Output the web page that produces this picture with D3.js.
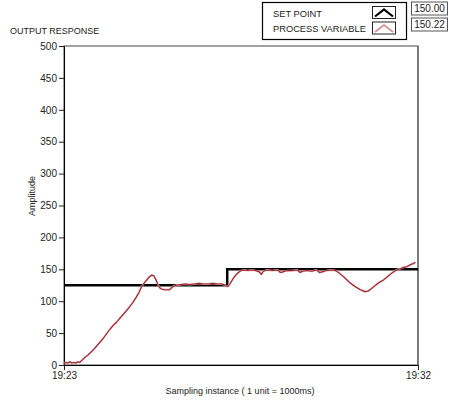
<!DOCTYPE html>
<html><head><meta charset="utf-8">
<script src="https://cdn.jsdelivr.net/npm/d3@7"></script>
<style>
body{margin:0;background:#fff;}
svg{display:block;font-family:"Liberation Sans",Arial,sans-serif;}
</style></head>
<body><svg id="c" width="474" height="415"></svg>
<script>
// ---- data ----
const yTicks = [0,50,100,150,200,250,300,350,400,450,500];
const xTickSeconds = [0, 540];
const xTickLabels = ["19:23","19:32"];
const spTimes = [0, 249, 540];
const spValues = [125, 150, 150];
const pvTimes = [0,3,6,9,12,15,18,21,24,28,32,36,40,45,50,55,60,65,70,75,80,85,90,95,100,105,110,114,118,122,126,130,134,137,140,143,146,149,153,157,161,164,168,172,178,185,192,199,206,213,220,227,234,240,244,247,250,253,256,259,262,266,270,275,280,286,292,298,301,304,310,318,326,330,334,340,348,356,360,364,370,378,385,390,394,400,408,414,420,428,436,444,452,459,464,468,474,480,487,494,500,507,513,518,523,528,533,536];
const pvValues = [2,4,3,5,3,4,3,5,4,8,12,15,19,24,30,36,42,49,56,62,67,73,79,85,91,98,106,113,122,128,133,138,141,140,134,127,121,119,118,118,118,121,124,125,126,127,126,127,128,127,127,128,127,127,126,124,123,127,132,137,141,145,148,149,148,149,148,146,142,147,149,148,149,145,146,148,148,149,145,147,148,147,149,145,146,148,149,148,144,137,129,123,118,115,116,119,124,129,133,139,144,149,151,153,154,157,159,161];
const legendNames = ["SET POINT","PROCESS VARIABLE"];
const legendValues = ["150.00","150.22"];
const colors = ["#000000","#a0232c"];

const svg = d3.select("#c");
const L=64, R=418, T=46, B=365;
const x = d3.scaleLinear().domain([0,540]).range([L,R]);
const y = d3.scaleLinear().domain([0,500]).range([B,T]);

// frame
svg.append("rect").attr("x",L).attr("y",T).attr("width",R-L).attr("height",B-T)
  .attr("fill","#fff").attr("stroke","#444").attr("stroke-width",1);

// y axis
const ya = svg.append("g").attr("transform",`translate(${L},0)`)
  .call(d3.axisLeft(y).tickValues(yTicks).tickSize(5).tickPadding(2).tickFormat(d3.format("d")));
ya.select(".domain").attr("stroke","#000");
ya.selectAll("text").attr("font-size","10px").attr("fill","#222").attr("font-family","Liberation Sans, Arial, sans-serif");
ya.selectAll("line").attr("stroke","#222");

// x axis
const xa = svg.append("g").attr("transform",`translate(0,${B})`)
  .call(d3.axisBottom(x).tickValues(xTickSeconds).tickSize(5).tickPadding(2).tickFormat((d,i)=>xTickLabels[i]));
xa.select(".domain").attr("stroke","#000");
xa.selectAll("text").attr("font-size","10px").attr("fill","#222").attr("font-family","Liberation Sans, Arial, sans-serif");
xa.selectAll("line").attr("stroke","#222");

// right border darker
svg.append("line").attr("x1",R).attr("x2",R).attr("y1",T).attr("y2",B).attr("stroke","#555");

// lines
const sp = spTimes.map((t,i)=>[t,spValues[i]]);
const pv = pvTimes.map((t,i)=>[t,pvValues[i]]);
svg.append("path").datum(sp)
  .attr("d",d3.line().x(d=>x(d[0])).y(d=>y(d[1])).curve(d3.curveStepAfter))
  .attr("fill","none").attr("stroke",colors[0]).attr("stroke-width",2.5);
svg.append("path").datum(pv)
  .attr("d",d3.line().x(d=>x(d[0])).y(d=>y(d[1])))
  .attr("fill","none").attr("stroke","#eab0b3").attr("stroke-width",1.9).attr("stroke-linejoin","round");
svg.append("path").datum(pv)
  .attr("d",d3.line().x(d=>x(d[0])).y(d=>y(d[1])))
  .attr("fill","none").attr("stroke",colors[1]).attr("stroke-width",1.1).attr("stroke-linejoin","round");

// titles
svg.append("text").attr("x",10).attr("y",34).attr("font-size","9px").attr("fill","#222").text("OUTPUT RESPONSE");
svg.append("text").attr("transform","translate(35,196) rotate(-90)").attr("text-anchor","middle")
  .attr("font-size","9px").attr("fill","#222").text("Amplitude");
svg.append("text").attr("x",240).attr("y",394).attr("text-anchor","middle")
  .attr("font-size","9px").attr("fill","#222").text("Sampling instance ( 1 unit = 1000ms)");

// legend
svg.append("rect").attr("x",262.5).attr("y",2.5).attr("width",144).attr("height",37)
  .attr("fill","#fff").attr("stroke","#000").attr("stroke-width",1.2);
legendNames.forEach((n,i)=>{
  const yy = 6.5 + i*15.5;
  svg.append("text").attr("x",273).attr("y",yy+10).attr("font-size","9.3px").attr("fill","#222").text(n);
  svg.append("rect").attr("x",372.5).attr("y",yy).attr("width",23).attr("height",12)
    .attr("fill","#fff").attr("stroke","#222").attr("stroke-width",1);
  svg.append("path").attr("d",`M${375},${yy+10} L${384},${yy+3} L${393},${yy+10}`)
    .attr("fill","none").attr("stroke", i===0?"#000":"#d98a8e").attr("stroke-width", i===0?2.2:1.6);
  svg.append("rect").attr("x",411.5).attr("y",yy-4.5+i*0.5).attr("width",36).attr("height",13)
    .attr("fill","#fff").attr("stroke","#555").attr("stroke-width",1);
  svg.append("text").attr("x",429.5).attr("y",yy+5.5+i*0.5).attr("text-anchor","middle")
    .attr("font-size","10px").attr("fill","#222").text(legendValues[i]);
});
</script></body></html>
